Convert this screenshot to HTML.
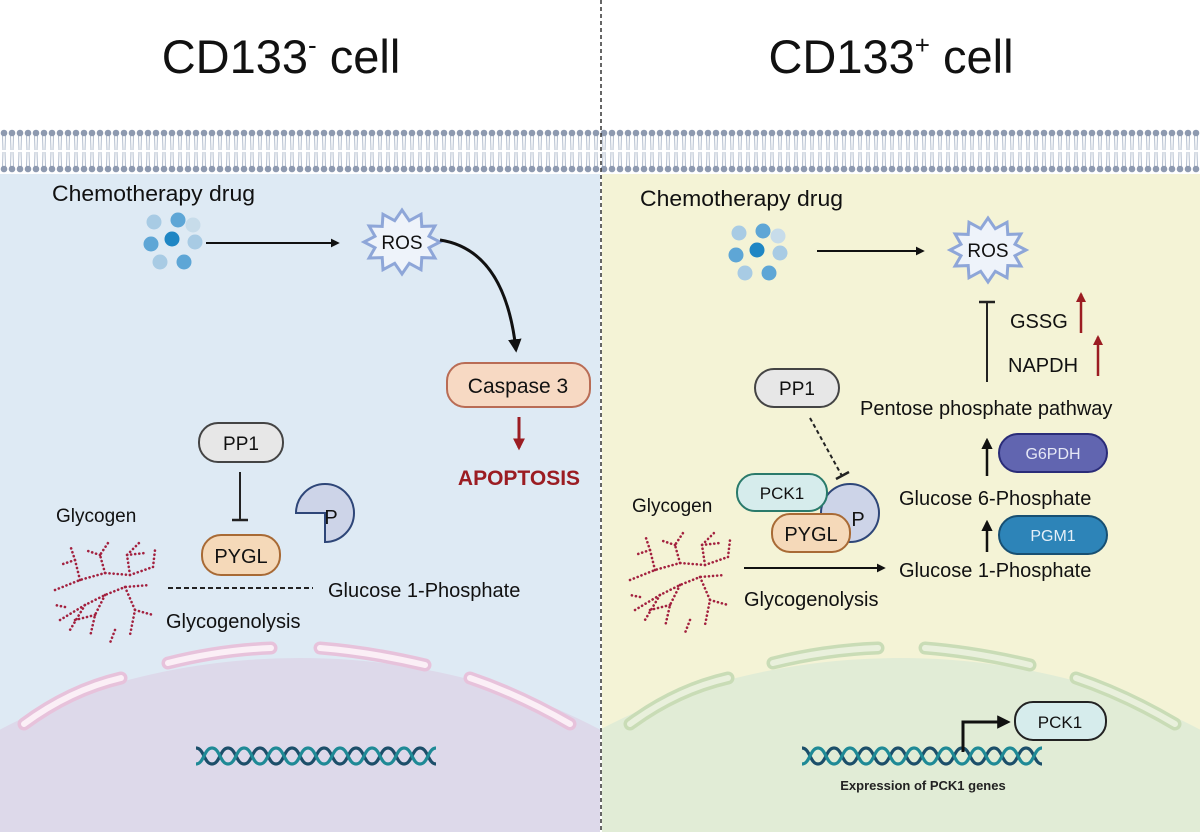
<!DOCTYPE html>
<html><head><meta charset="utf-8"><style>
html,body{margin:0;padding:0;background:#fff;width:1200px;height:832px;overflow:hidden}
svg{display:block}
text{font-family:"Liberation Sans",sans-serif;fill:#111}
</style></head><body>
<svg width="1200" height="832" viewBox="0 0 1200 832" xmlns="http://www.w3.org/2000/svg">
<defs>
<pattern id="mem" x="0" y="128" width="8" height="46" patternUnits="userSpaceOnUse">
<path d="M2.5 6 L3 22 M5.5 6 L5 22 M2.5 40 L3 24 M5.5 40 L5 24" stroke="#aab6c8" stroke-width="0.9" fill="none"/>
<circle cx="4" cy="5" r="3.3" fill="#8e9ab0"/>
<circle cx="4" cy="41" r="3.3" fill="#8e9ab0"/>
</pattern>
<polygon id="star" points="38,0 27,5.7 32.9,16 19.8,15.6 19,27.7 7.3,21.3 0,32 -7.3,21.3 -19,27.7 -19.8,15.6 -32.9,16 -27,5.7 -38,0 -27,-5.7 -32.9,-16 -19.8,-15.6 -19,-27.7 -7.3,-21.3 0,-32 7.3,-21.3 19,-27.7 19.8,-15.6 32.9,-16 27,-5.7" fill="#eef3fa" stroke="#8ea6d8" stroke-width="3" stroke-linejoin="miter"/>
<marker id="ah" viewBox="0 0 10 10" refX="8" refY="5" markerWidth="4.5" markerHeight="4.5" orient="auto"><path d="M0 0 L10 5 L0 10 z" fill="#111"/></marker>
<marker id="ahr" viewBox="0 0 10 10" refX="8" refY="5" markerWidth="4" markerHeight="4" orient="auto"><path d="M0 0 L10 5 L0 10 z" fill="#9b1c22"/></marker>
<clipPath id="cl"><rect x="0" y="174" width="600" height="658"/></clipPath>
<clipPath id="cr"><rect x="602" y="174" width="598" height="658"/></clipPath>
<g id="glyc" fill="none" stroke="#a3213f" stroke-width="2.6" stroke-dasharray="0.1 4" stroke-linecap="round">
<path d="M0 45 L25 35 L50 28 L75 30 L98 22"/>
<path d="M5 75 L30 60 L50 50 L70 42 L95 40"/>
<path d="M25 35 L20 15 L15 0"/><path d="M50 28 L45 10 L55 -5"/>
<path d="M75 30 L72 10 L85 -3"/><path d="M50 50 L40 70 L35 92"/>
<path d="M70 42 L80 65 L75 90"/><path d="M30 60 L15 85"/>
<path d="M45 10 L30 5"/><path d="M72 10 L90 8"/><path d="M40 70 L20 75"/>
<path d="M80 65 L98 70"/><path d="M98 22 L100 5"/><path d="M20 15 L5 20"/>
<path d="M10 62 L0 60"/><path d="M60 85 L55 98"/>
</g>
<g id="dots">
<circle cx="-17" cy="-17" r="7.5" fill="#a8cbe4"/>
<circle cx="7" cy="-19" r="7.5" fill="#5ea6d6"/>
<circle cx="22" cy="-14" r="7.5" fill="#c7dcea"/>
<circle cx="-20" cy="5" r="7.5" fill="#5ea6d6"/>
<circle cx="1" cy="0" r="7.5" fill="#1f86c4"/>
<circle cx="24" cy="3" r="7.5" fill="#a8cbe4"/>
<circle cx="-11" cy="23" r="7.5" fill="#a8cbe4"/>
<circle cx="13" cy="23" r="7.5" fill="#5ea6d6"/>
</g>
<g id="dna" fill="none" stroke-width="3.2">
<path d="M0 -8 C8 -8 8 8 16 8 C24 8 24 -8 32 -8 C40 -8 40 8 48 8 C56 8 56 -8 64 -8 C72 -8 72 8 80 8 C88 8 88 -8 96 -8 C104 -8 104 8 112 8 C120 8 120 -8 128 -8 C136 -8 136 8 144 8 C152 8 152 -8 160 -8 C168 -8 168 8 176 8 C184 8 184 -8 192 -8 C200 -8 200 8 208 8 C216 8 216 -8 224 -8 C232 -8 232 8 240 8" stroke="#1c4f6a"/>
<path d="M0 8 C8 8 8 -8 16 -8 C24 -8 24 8 32 8 C40 8 40 -8 48 -8 C56 -8 56 8 64 8 C72 8 72 -8 80 -8 C88 -8 88 8 96 8 C104 8 104 -8 112 -8 C120 -8 120 8 128 8 C136 8 136 -8 144 -8 C152 -8 152 8 160 8 C168 8 168 -8 176 -8 C184 -8 184 8 192 8 C200 8 200 -8 208 -8 C216 -8 216 8 224 8 C232 8 232 -8 240 -8" stroke="#1f8a96"/>
</g>
</defs>

<!-- titles -->
<text x="281" y="73" font-size="47" text-anchor="middle">CD133<tspan font-size="26" dy="-19">-</tspan><tspan dy="19"> cell</tspan></text>
<text x="891" y="73" font-size="47" text-anchor="middle">CD133<tspan font-size="26" dy="-19">+</tspan><tspan dy="19"> cell</tspan></text>

<!-- membrane -->
<rect x="0" y="128" width="1200" height="46" fill="url(#mem)"/>

<!-- panels -->
<rect x="0" y="174" width="600" height="658" fill="#deeaf4"/>
<rect x="602" y="174" width="598" height="658" fill="#f4f3d6"/>
<line x1="601" y1="0" x2="601" y2="832" stroke="#333" stroke-width="1.5" stroke-dasharray="4 3"/>

<!-- nuclei -->
<g clip-path="url(#cl)">
<ellipse cx="300" cy="1049" rx="520" ry="391" fill="#ddd9ea"/>
<g fill="none" stroke-linecap="round">
<g stroke="#e7c2db" stroke-width="13">
<path d="M24 724 Q70 690 121 678"/><path d="M168 663 Q220 650 271 648"/><path d="M320 648 Q370 652 425 665"/><path d="M470 678 Q520 695 570 724"/>
</g>
<g stroke="#fbeff6" stroke-width="6">
<path d="M24 724 Q70 690 121 678"/><path d="M168 663 Q220 650 271 648"/><path d="M320 648 Q370 652 425 665"/><path d="M470 678 Q520 695 570 724"/>
</g></g>
</g>
<g clip-path="url(#cr)">
<ellipse cx="900" cy="1049" rx="520" ry="391" fill="#e1ecd6"/>
<g fill="none" stroke-linecap="round">
<g stroke="#c9dcb6" stroke-width="13">
<path d="M630 724 Q676 690 728 678"/><path d="M773 663 Q825 650 878 648"/><path d="M925 648 Q975 652 1030 665"/><path d="M1076 678 Q1126 695 1175 724"/>
</g>
<g stroke="#e9f0dc" stroke-width="6">
<path d="M630 724 Q676 690 728 678"/><path d="M773 663 Q825 650 878 648"/><path d="M925 648 Q975 652 1030 665"/><path d="M1076 678 Q1126 695 1175 724"/>
</g></g>
</g>

<!-- LEFT -->
<text x="52" y="201" font-size="22" textLength="203" lengthAdjust="spacingAndGlyphs">Chemotherapy drug</text>
<use href="#dots" x="171" y="239"/>
<line x1="206" y1="243" x2="338" y2="243" stroke="#111" stroke-width="2" marker-end="url(#ah)"/>
<use href="#star" x="402" y="242"/>
<text x="402" y="249" font-size="19" text-anchor="middle">ROS</text>
<path d="M440 240 Q505 250 516 350" fill="none" stroke="#111" stroke-width="3" marker-end="url(#ah)"/>
<rect x="447" y="363" width="143" height="44" rx="18" fill="#f7d9c3" stroke="#b96c55" stroke-width="2"/>
<text x="518" y="393" font-size="21" text-anchor="middle">Caspase 3</text>
<line x1="519" y1="417" x2="519" y2="448" stroke="#9b1c22" stroke-width="3" marker-end="url(#ahr)"/>
<text x="519" y="485" font-size="21" font-weight="bold" text-anchor="middle" style="fill:#9b1c22">APOPTOSIS</text>

<rect x="199" y="423" width="84" height="39" rx="19" fill="#e7e7e7" stroke="#444" stroke-width="2"/>
<text x="241" y="450" font-size="19" text-anchor="middle">PP1</text>
<line x1="240" y1="472" x2="240" y2="520" stroke="#222" stroke-width="2"/>
<line x1="232" y1="520" x2="248" y2="520" stroke="#222" stroke-width="2.5"/>
<rect x="202" y="535" width="78" height="40" rx="19" fill="#f5d9b9" stroke="#a86a35" stroke-width="2"/>
<text x="241" y="563" font-size="20" text-anchor="middle">PYGL</text>
<path d="M325 513 L296 513 A29 29 0 1 1 325 542 Z" fill="#cdd4e8" stroke="#2e4678" stroke-width="2"/>
<text x="331" y="524" font-size="20" text-anchor="middle">P</text>
<text x="56" y="522" font-size="19">Glycogen</text>
<use href="#glyc" x="55" y="545"/>
<line x1="168" y1="588" x2="313" y2="588" stroke="#222" stroke-width="2" stroke-dasharray="5 3"/>
<text x="328" y="597" font-size="20">Glucose 1-Phosphate</text>
<text x="166" y="628" font-size="20">Glycogenolysis</text>
<use href="#dna" x="196" y="756"/>

<!-- RIGHT -->
<text x="640" y="206" font-size="22" textLength="203" lengthAdjust="spacingAndGlyphs">Chemotherapy drug</text>
<use href="#dots" x="756" y="250"/>
<line x1="817" y1="251" x2="923" y2="251" stroke="#111" stroke-width="2" marker-end="url(#ah)"/>
<use href="#star" x="988" y="250"/>
<text x="988" y="257" font-size="19" text-anchor="middle">ROS</text>
<line x1="987" y1="302" x2="987" y2="382" stroke="#222" stroke-width="2"/>
<line x1="979" y1="302" x2="995" y2="302" stroke="#222" stroke-width="2.5"/>
<text x="1010" y="328" font-size="20">GSSG</text>
<line x1="1081" y1="333" x2="1081" y2="294" stroke="#9b1c22" stroke-width="2.5" marker-end="url(#ahr)"/>
<text x="1008" y="372" font-size="20">NAPDH</text>
<line x1="1098" y1="376" x2="1098" y2="337" stroke="#9b1c22" stroke-width="2.5" marker-end="url(#ahr)"/>
<text x="860" y="415" font-size="20">Pentose phosphate pathway</text>
<line x1="987" y1="476" x2="987" y2="440" stroke="#111" stroke-width="2.5" marker-end="url(#ah)"/>
<rect x="999" y="434" width="108" height="38" rx="19" fill="#6165b0" stroke="#2a2c78" stroke-width="2"/>
<text x="1053" y="459" font-size="16" text-anchor="middle" style="fill:#e6e8f6">G6PDH</text>
<text x="899" y="505" font-size="20">Glucose 6-Phosphate</text>
<line x1="987" y1="552" x2="987" y2="522" stroke="#111" stroke-width="2.5" marker-end="url(#ah)"/>
<rect x="999" y="516" width="108" height="38" rx="19" fill="#2d84b8" stroke="#174f72" stroke-width="2"/>
<text x="1053" y="541" font-size="16" text-anchor="middle" style="fill:#e6f0f8">PGM1</text>
<text x="899" y="577" font-size="20">Glucose 1-Phosphate</text>
<line x1="744" y1="568" x2="884" y2="568" stroke="#111" stroke-width="2" marker-end="url(#ah)"/>
<text x="744" y="606" font-size="20">Glycogenolysis</text>
<text x="632" y="512" font-size="19">Glycogen</text>
<use href="#glyc" x="630" y="535"/>

<rect x="755" y="369" width="84" height="38" rx="19" fill="#e7e7e7" stroke="#444" stroke-width="2"/>
<text x="797" y="395" font-size="19" text-anchor="middle">PP1</text>
<line x1="810" y1="418" x2="842" y2="476" stroke="#222" stroke-width="2" stroke-dasharray="4 3"/>
<line x1="836" y1="479" x2="849" y2="472" stroke="#222" stroke-width="2.5"/>
<circle cx="850" cy="513" r="29" fill="#cdd4e8" stroke="#2e4678" stroke-width="2"/>
<rect x="772" y="514" width="78" height="38" rx="18" fill="#f5d9b9" stroke="#a86a35" stroke-width="2"/>
<text x="811" y="541" font-size="20" text-anchor="middle">PYGL</text>
<rect x="737" y="474" width="90" height="37" rx="18" fill="#d6ecec" stroke="#2a7a6b" stroke-width="2"/>
<text x="782" y="499" font-size="17" text-anchor="middle">PCK1</text>
<text x="858" y="526" font-size="20" text-anchor="middle">P</text>

<use href="#dna" x="802" y="756"/>
<path d="M963 752 L963 722 L1008 722" fill="none" stroke="#111" stroke-width="3" marker-end="url(#ah)"/>
<rect x="1015" y="702" width="91" height="38" rx="18" fill="#d6ecec" stroke="#222" stroke-width="2"/>
<text x="1060" y="728" font-size="17" text-anchor="middle">PCK1</text>
<text x="923" y="790" font-size="13" font-weight="bold" text-anchor="middle" style="fill:#222">Expression of PCK1 genes</text>
</svg>
</body></html>
